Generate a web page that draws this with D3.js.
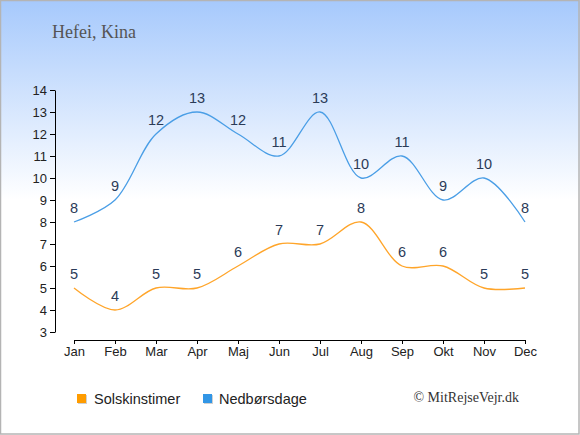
<!DOCTYPE html>
<html>
<head>
<meta charset="utf-8">
<script src="https://cdn.jsdelivr.net/npm/d3@7"></script>
<style>
  html, body { margin: 0; padding: 0; background: #fff; }
  svg { display: block; }
</style>
</head>
<body>
<div id="chart"></div>
<script>
// data
const maaneder = ['Jan','Feb','Mar','Apr','Maj','Jun','Jul','Aug','Sep','Okt','Nov','Dec'];
const solskin = [5,4,5,5,6,7,7,8,6,6,5,5];
const nedbor = [8,9,12,13,12,11,13,10,11,9,10,8];
const yTicks = [3,4,5,6,7,8,9,10,11,12,13,14];

const W = 580, H = 435;

const svg = d3.select('#chart').append('svg')
  .attr('width', W).attr('height', H);

// baggrund med gradient
const defs = svg.append('defs');
const grad = defs.append('linearGradient')
  .attr('id', 'bg').attr('x1', 0).attr('y1', 0).attr('x2', 0).attr('y2', 1);
grad.append('stop').attr('offset', '0%').attr('stop-color', '#a6c9fc');
grad.append('stop').attr('offset', '46%').attr('stop-color', '#ffffff');
grad.append('stop').attr('offset', '100%').attr('stop-color', '#ffffff');

svg.append('rect').attr('x', 0).attr('y', 0).attr('width', W).attr('height', H)
  .attr('fill', 'url(#bg)');
svg.append('rect').attr('x', 0.5).attr('y', 0.5).attr('width', W - 1.5).attr('height', H - 1.5)
  .attr('fill', 'none').attr('stroke', '#b4b4b4').attr('stroke-width', 1.5);

// titel
svg.append('text').attr('x', 52).attr('y', 38)
  .attr('font-family', '"Liberation Serif", "Times New Roman", serif')
  .attr('font-size', '18px').attr('fill', '#555')
  .text('Hefei, Kina');

// skalaer
const x = d3.scalePoint().domain(maaneder).range([74, 525]);
const y = d3.scaleLinear().domain([3, 14]).range([332, 90]);

// y akse
const yAx = svg.append('g').attr('transform', 'translate(55,0)')
  .call(d3.axisLeft(y).tickValues(yTicks).tickSize(5).tickSizeOuter(0).tickPadding(3));
yAx.selectAll('text').attr('font-family', '"Liberation Sans", Arial, sans-serif')
  .attr('font-size', '13px').attr('fill', '#222');
yAx.selectAll('line, path').attr('stroke', '#000');

// x akse
const xAx = svg.append('g').attr('transform', 'translate(0,340)')
  .call(d3.axisBottom(x).tickSize(4).tickSizeOuter(0).tickPadding(3));
xAx.selectAll('text').attr('font-family', '"Liberation Sans", Arial, sans-serif')
  .attr('font-size', '13px').attr('fill', '#222');
xAx.selectAll('line, path').attr('stroke', '#000');

// linjer
const linje = d3.line()
  .x((d, i) => x(maaneder[i]))
  .y(d => y(d))
  .curve(d3.curveCatmullRom.alpha(0.5));

const serier = [
  {navn: 'Solskinstimer', vals: solskin, farve: '#ffa52a', boks: '#ff9c00'},
  {navn: 'Nedbørsdage', vals: nedbor, farve: '#4a9ee6', boks: '#3296e6'}
];

for (let s of serier) {
  svg.append('path').datum(s.vals)
    .attr('d', linje)
    .attr('fill', 'none')
    .attr('stroke', s.farve)
    .attr('stroke-width', 1.3);

  svg.append('g').selectAll('text').data(s.vals).join('text')
    .attr('x', (d, i) => x(maaneder[i]))
    .attr('y', d => y(d) - 9)
    .attr('text-anchor', 'middle')
    .attr('font-family', '"Liberation Sans", Arial, sans-serif')
    .attr('font-size', '14.5px')
    .attr('fill', '#2b3b58')
    .text(d => d);
}

// forklaring
const leg = [[77, 94, serier[0]], [203, 219, serier[1]]];
for (let [bx, tx, s] of leg) {
  svg.append('rect').attr('x', bx + 1).attr('y', 395).attr('width', 9).attr('height', 9)
    .attr('fill', '#d0d0d0');
  svg.append('rect').attr('x', bx).attr('y', 394).attr('width', 9).attr('height', 9)
    .attr('fill', s.boks);
  svg.append('text').attr('x', tx).attr('y', 403.5)
    .attr('font-family', '"Liberation Sans", Arial, sans-serif')
    .attr('font-size', '14.5px').attr('fill', '#222')
    .text(s.navn);
}

svg.append('text').attr('x', 519).attr('y', 402).attr('text-anchor', 'end')
  .attr('font-family', '"Liberation Serif", "Times New Roman", serif')
  .attr('font-size', '14px').attr('fill', '#333')
  .text('© MitRejseVejr.dk');
</script>
</body>
</html>
